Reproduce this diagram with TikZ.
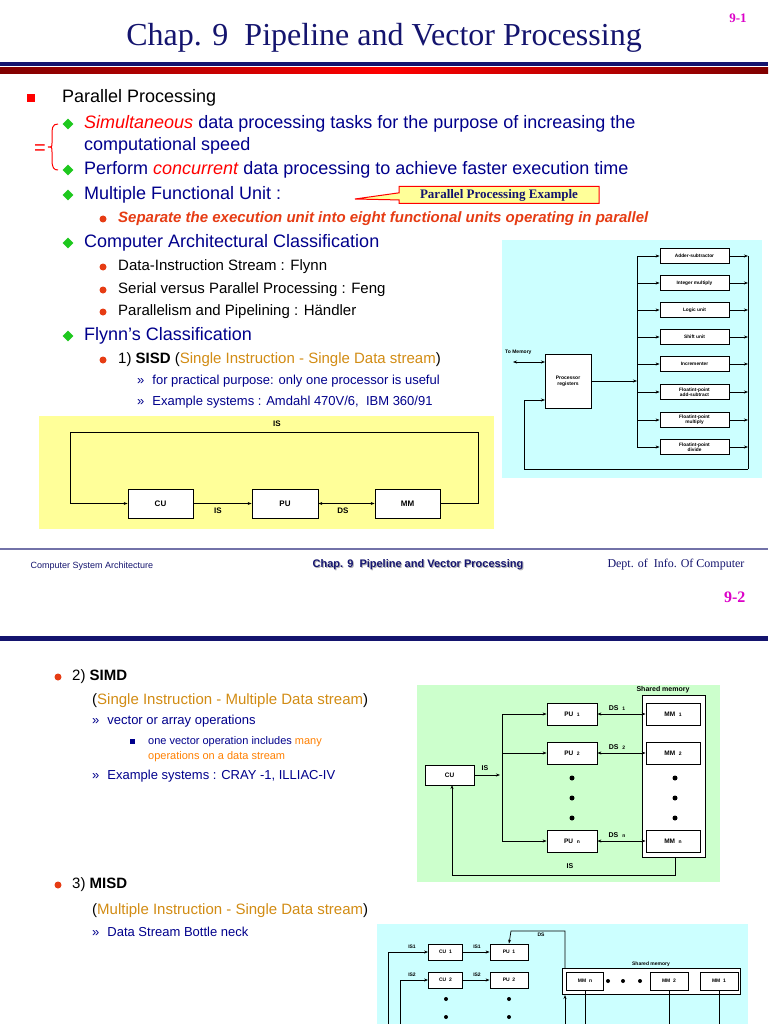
\documentclass[tikz,border=0pt]{standalone}
\usepackage{fontspec}
\setmainfont{Liberation Sans}
\newfontfamily\serif{Liberation Serif}
\usetikzlibrary{arrows.meta,shapes.callouts,shapes.geometric}
\definecolor{navy}{RGB}{20,20,110}
\definecolor{txtblue}{RGB}{0,0,140}
\definecolor{gold}{RGB}{210,140,20}
\definecolor{orred}{RGB}{230,60,20}
\definecolor{grn}{RGB}{30,200,30}
\definecolor{cyanbg}{RGB}{204,255,255}
\definecolor{ylwbg}{RGB}{255,255,153}
\definecolor{grnbg}{RGB}{204,255,204}
\definecolor{mag}{RGB}{220,0,200}
\tikzset{
 body/.style={anchor=west,inner sep=0,font=\fontsize{18}{20}\selectfont,text=txtblue},
 sub/.style={anchor=west,inner sep=0,font=\fontsize{15}{17}\selectfont,text=black},
 small/.style={anchor=west,inner sep=0,font=\fontsize{13}{15}\selectfont,text=txtblue},
 dia/.style={fill=grn,diamond,inner sep=0,minimum size=11},
 rdot/.style={circle,fill=orred,inner sep=0,minimum size=7},
 box/.style={draw,fill=white,line width=0.8pt,inner sep=0,font=\fontsize{6.5}{7}\selectfont\bfseries},
 lbl/.style={inner sep=0,font=\fontsize{7}{7}\selectfont\bfseries},
 bdot/.style={circle,fill=black,inner sep=0,minimum size=5},
 ar/.style={-{Stealth[length=4pt,width=3pt]},line width=0.7pt},
 dar/.style={{Stealth[length=4pt,width=3pt]}-{Stealth[length=4pt,width=3pt]},line width=0.7pt},
 ln/.style={line width=0.7pt},
 fu/.style={box,minimum width=69,minimum height=15,align=center,font=\fontsize{4.8}{5.2}\selectfont\bfseries},
 mb/.style={box,font=\fontsize{5}{5}\selectfont\bfseries,minimum height=16},
}
\begin{document}
\begin{tikzpicture}[x=1pt,y=-1pt]
\useasboundingbox (0,0) rectangle (768,1024);
\fill[white] (0,0) rectangle (768,1024);
% header
\node[font=\serif\fontsize{32}{34}\selectfont,text=navy] (title) at (384,38) {Chap. 9\ \ Pipeline and Vector Processing};
\node[font=\serif\fontsize{13}{14}\selectfont\bfseries,text=mag] (p1) at (738,18) {9-1};
\fill[navy] (0,62) rectangle (768,66);
\shade[left color=red!50!black,right color=red!50!black,middle color=red] (0,68) rectangle (768,74);
% bullets
\node[fill=red,inner sep=0,minimum size=8] (b0) at (31,98) {};
\node[body,text=black] (t0) at (62,98) {Parallel Processing};
\node[dia] (d1) at (68,124) {};
\node[body] (t1) at (84,124) {\textcolor{red}{\itshape Simultaneous} data processing tasks for the purpose of increasing the};
\node[body] (t1b) at (84,146) {computational speed};
\node[font=\fontsize{20}{20}\selectfont,text=red] (eq) at (40,150) {=};
\draw[red,line width=1pt] (58,124) .. controls (52,124) and (52,128) .. (52,138) -- (52,143) .. controls (52,147) .. (48,147) .. controls (52,147) .. (52,152) -- (52,160) .. controls (52,168) and (54,170) .. (58,170);
\node[dia] (d2) at (68,170) {};
\node[body] (t2) at (84,170) {Perform \textcolor{red}{\itshape concurrent} data processing to achieve faster execution time};
\node[dia] (d3) at (68,195) {};
\node[body] (t3) at (84,195) {Multiple Functional Unit :};
\node[rectangle callout,draw=red,fill=ylwbg,line width=1pt,font=\serif\fontsize{13}{14}\selectfont\bfseries,text=navy,minimum width=200,minimum height=17,inner sep=1,callout absolute pointer={(355,199)}] (call) at (499,195) {Parallel Processing Example};
\node[rdot] (r1) at (103,219) {};
\node[sub,text=orred,font=\fontsize{15}{17}\selectfont\bfseries\itshape] (t4) at (118,219) {Separate the execution unit into eight functional units operating in parallel};
\node[dia] (d4) at (68,243) {};
\node[body] (t5) at (84,243) {Computer Architectural Classification};
\node[rdot] (r2) at (103,267) {};
\node[sub] (t6) at (118,267) {Data-Instruction Stream : Flynn};
\node[rdot] (r3) at (103,290) {};
\node[sub] (t7) at (118,290) {Serial versus Parallel Processing : Feng};
\node[rdot] (r4) at (103,312) {};
\node[sub] (t8) at (118,312) {Parallelism and Pipelining : Händler};
\node[dia] (d5) at (68,336) {};
\node[body] (t9) at (84,336) {Flynn’s Classification};
\node[rdot] (r5) at (103,360) {};
\node[sub] (t10) at (118,360) {1) \textbf{SISD} (\textcolor{gold}{Single Instruction - Single Data stream})};
\node[small] (q1) at (137,381) {»\hspace{8pt}for practical purpose: only one processor is useful};
\node[small] (q2) at (137,402) {»\hspace{8pt}Example systems : Amdahl 470V/6,\ \ IBM 360/91};
% SISD
\fill[ylwbg] (39,416) rectangle (494,529);
\node[box,minimum width=65,minimum height=29,font=\fontsize{8}{8}\selectfont\bfseries] (cu) at (160.5,503.5) {CU};
\node[box,minimum width=66,minimum height=29,font=\fontsize{8}{8}\selectfont\bfseries] (pu) at (285,503.5) {PU};
\node[box,minimum width=65,minimum height=29,font=\fontsize{8}{8}\selectfont\bfseries] (mm) at (407.5,503.5) {MM};
\draw[ar] (cu) -- (pu);
\draw[dar] (pu) -- (mm);
\draw[ar] (mm.east) -- (478,503.5) -- (478,432) -- (70,432) -- (70,503.5) -- (cu.west);
\node[lbl,font=\fontsize{8}{8}\selectfont\bfseries] (is1) at (277,424) {IS};
\node[lbl,font=\fontsize{8}{8}\selectfont\bfseries] (is2) at (218,511) {IS};
\node[lbl,font=\fontsize{8}{8}\selectfont\bfseries] (ds1) at (343,511) {DS};
% functional units
\fill[cyanbg] (502,240) rectangle (762,478);
\node[box,minimum width=46,minimum height=54,align=center,font=\fontsize{5}{6}\selectfont\bfseries] (pr) at (568,381) {Processor\\registers};
\coordinate (bus) at (637,381);
\draw[ar] (pr.east) -- (bus);
\foreach \n/\y/\t in {1/256/Adder-subtractor,2/283/Integer multiply,3/310/Logic unit,4/337/Shift unit,5/364/Incrementer,6/392/Floatint-point\\add-subtract,7/420/Floatint-point\\multiply,8/447/Floatint-point\\divide}{
 \node[fu] (f\n) at (694.5,\y) {\t};
 \draw[ar] (637,\y) -- (f\n.west);
 \draw[ar] (f\n.east) -- (748,\y);
}
\draw[ln] (637,256) -- (637,447);
\draw[ln] (748,256) -- (748,469);
\draw[ar] (748,469) -- (524,469) -- (524,400) -- (545,400);
\coordinate (tm) at (513,362);
\draw[dar] (tm) -- (545,362);
\node[lbl,anchor=west,font=\fontsize{5}{5}\selectfont\bfseries] (tmt) at (505,352) {To Memory};
% footer
\draw[navy!60,line width=1.5pt] (0,549) -- (768,549);
\node[anchor=west,font=\fontsize{9}{10}\selectfont,text=navy] (f1) at (27,566) {Computer System Architecture};
\node[font=\fontsize{11}{12}\selectfont\bfseries,text=gray!60] (f2s) at (419,566) {Chap. 9\ \ Pipeline and Vector Processing};
\node[font=\fontsize{11}{12}\selectfont\bfseries,text=navy] (f2) at (418,565) {Chap. 9\ \ Pipeline and Vector Processing};
\node[anchor=east,font=\serif\fontsize{12}{13}\selectfont,text=navy] (f3) at (748,565) {Dept. of\ \ Info. Of Computer};
\node[anchor=east,font=\serif\fontsize{16}{17}\selectfont\bfseries,text=mag] (p2) at (749,597) {9-2};
\fill[navy] (0,636) rectangle (768,641);
% slide 2 text
\node[rdot] (r6) at (58,677) {};
\node[sub] (s1) at (72,677) {2) \textbf{SIMD}};
\node[sub,text=gold] (s2) at (92,701) {\textcolor{black}{(}Single Instruction - Multiple Data stream\textcolor{black}{)}};
\node[small] (s3) at (92,721) {»\hspace{8pt}vector or array operations};
\node[fill=txtblue,inner sep=0,minimum size=5] (sq) at (132,741) {};
\node[anchor=west,inner sep=0,font=\fontsize{11}{15}\selectfont,text=txtblue,align=left] (s4) at (148,749) {one vector operation includes \textcolor{orange}{many}\\\textcolor{orange}{operations on a data stream}};
\node[small] (s5) at (92,776) {»\hspace{8pt}Example systems : CRAY -1, ILLIAC-IV};
% SIMD diagram
\fill[grnbg] (417,685) rectangle (720,882);
\node[draw,fill=white,line width=0.8pt,minimum width=63,minimum height=162,inner sep=0] (shm) at (673.5,776) {};
\node[lbl] (shml) at (663,690) {Shared memory};
\node[box,minimum width=49,minimum height=20] (scu) at (449.5,775) {CU};
\foreach \n/\y/\s in {1/714/1,2/753/2,n/841/n}{
 \node[box,minimum width=50,minimum height=22] (pu\n) at (572,\y) {PU\ \ {\tiny\s}};
 \node[box,minimum width=54,minimum height=22] (mm\n) at (673,\y) {MM\ \ {\tiny\s}};
 \draw[dar] (pu\n) -- (mm\n);
 \draw[ar] (502,\y) -- (pu\n.west);
 \node[lbl] (dsl\n) at (617,\y-6) {DS\ \ {\tiny\s}};
}
\draw[ln] (502,714) -- (502,841);
\draw[ar] (scu.east) -- (500,775);
\node[lbl] (sis1) at (485,768) {IS};
\foreach \y in {778,798,818}{\node[bdot] at (572,\y) {}; \node[bdot] at (675,\y) {};}
\draw[ar] (675,857) -- (675,875) -- (452,875) -- (452,785);
\node[lbl] (sis2) at (570,866) {IS};
% MISD text
\node[rdot] (r7) at (58,885) {};
\node[sub] (m1) at (72,885) {3) \textbf{MISD}};
\node[sub,text=gold] (m2) at (92,911) {\textcolor{black}{(}Multiple Instruction - Single Data stream\textcolor{black}{)}};
\node[small] (m3) at (92,932) {»\hspace{8pt}Data Stream Bottle neck};
% MISD diagram
\fill[cyanbg] (377,924) rectangle (748,1024);
\node[mb,minimum width=34] (mcu1) at (445.5,952) {CU\ \ 1};
\node[mb,minimum width=38] (mpu1) at (509,952) {PU\ \ 1};
\node[mb,minimum width=34] (mcu2) at (445.5,980) {CU\ \ 2};
\node[mb,minimum width=38] (mpu2) at (509,980) {PU\ \ 2};
\draw[ar] (mcu1) -- (mpu1); \draw[ar] (mcu2) -- (mpu2);
\draw[ar] (388,1024) -- (388,952) -- (mcu1.west);
\draw[ar] (400,1024) -- (400,980) -- (mcu2.west);
\foreach \x/\y/\t in {412/947/IS1,412/975/IS2,477/947/IS1,477/975/IS2}{\node[lbl,font=\fontsize{5}{5}\selectfont\bfseries] at (\x,\y) {\t};}
\foreach \y in {999,1017}{\node[bdot,minimum size=4] at (446,\y) {}; \node[bdot,minimum size=4] at (509,\y) {};}
\node[draw,fill=white,line width=0.8pt,minimum width=178,minimum height=26,inner sep=0] (mshm) at (651,981.5) {};
\node[lbl,font=\fontsize{5}{5}\selectfont\bfseries] (mshl) at (651,964) {Shared memory};
\node[mb,minimum width=37,minimum height=18] (mmn) at (585,981) {MM\ \ n};
\node[mb,minimum width=38,minimum height=18] (mm2) at (669,981) {MM\ \ 2};
\node[mb,minimum width=38,minimum height=18] (mm1) at (719,981) {MM\ \ 1};
\foreach \x in {608,623,640}{\node[bdot,minimum size=4] at (\x,981) {};}
\draw[ar] (565,968) -- (565,931) -- (511,931) -- (mpu1.north);
\node[lbl,font=\fontsize{5}{5}\selectfont\bfseries] (mds) at (541,935) {DS};
\coordinate (mbot) at (565,995);
\draw[ar] (565,1024) -- (mbot);
\draw[ln] (mmn.south) -- (585,1024);
\draw[ln] (mm2.south) -- (669,1024);
\draw[ln] (mm1.south) -- (719,1024);
\end{tikzpicture}
\end{document}
